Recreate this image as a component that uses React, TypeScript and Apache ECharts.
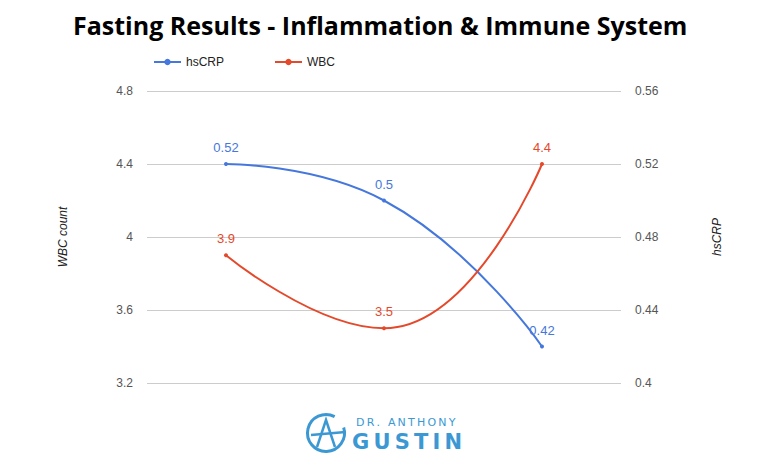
import React, { useEffect, useRef } from "react";
import * as echarts from "echarts";

const categories = ["Baseline", "Mid", "Post"];
const hsCRP = [0.52, 0.5, 0.42];
const WBC = [3.9, 3.5, 4.4];
const wbcTicks = { min: 3.2, max: 4.8, interval: 0.4 };
const crpTicks = { min: 0.4, max: 0.56, interval: 0.04 };

const BLUE = "#4577dc";
const RED = "#e4492b";
const LOGO = "#3b98d3";

export default function App() {
  const ref = useRef<HTMLDivElement>(null);
  useEffect(() => {
    document.body.style.margin = "0";
    const chart = echarts.init(ref.current!, undefined, { renderer: "svg" });
    const font = "Liberation Sans, Arial, sans-serif";
    const cx = 326, cy = 433, r = 18.5;
    const thin = "\u2009";
    const logo: any[] = [
      {
        type: "arc",
        shape: { cx, cy, r, startAngle: -0.3, endAngle: 5.2, clockwise: true },
        style: { stroke: LOGO, lineWidth: 3, fill: "none" },
      },
      {
        type: "line",
        shape: { x1: cx - 15, y1: cy + 2, x2: cx + r + 1, y2: cy - 1 },
        style: { stroke: LOGO, lineWidth: 2.5 },
      },
      {
        type: "polyline",
        shape: { points: [[cx - 9, cy + 14], [cx, cy - 13], [cx + 9, cy + 14]] },
        style: { stroke: LOGO, lineWidth: 2.5, fill: "none" },
      },
      {
        type: "text",
        x: 352,
        y: 441.5,
        style: {
          text: "GUSTIN".split("").join(thin),
          fill: LOGO,
          font: "bold 21px DejaVu Sans, sans-serif",
          lineHeight: 16,
          textAlign: "left",
          textVerticalAlign: "middle",
        },
      },
      {
        type: "text",
        x: 356,
        y: 422.5,
        style: {
          text: "DR. ANTHONY".split("").join(thin),
          fill: LOGO,
          font: "11px DejaVu Sans, sans-serif",
          lineHeight: 10,
          textAlign: "left",
          textVerticalAlign: "middle",
        },
      },
    ];
    chart.setOption({
      animation: false,
      title: {
        text: "Fasting Results - Inflammation & Immune System",
        left: 68,
        top: 7,
        textStyle: {
          fontFamily: "Open Sans, sans-serif",
          fontWeight: "bold",
          fontSize: 25,
          color: "#000",
        },
      },
      legend: {
        left: 148,
        top: 51,
        itemWidth: 27,
        itemHeight: 8,
        itemGap: 50,
        data: [
          { name: "hsCRP", itemStyle: { borderWidth: 0 } },
          { name: "WBC", itemStyle: { borderWidth: 0 } },
        ],
        textStyle: { fontFamily: font, fontSize: 12, color: "#222" },
      },
      grid: { left: 147, right: 147, top: 91, bottom: 90 },
      xAxis: {
        type: "category",
        data: categories,
        boundaryGap: true,
        axisLine: { show: false },
        axisTick: { show: false },
        axisLabel: { show: false },
      },
      yAxis: [
        {
          type: "value",
          ...wbcTicks,
          position: "left",
          name: "WBC count",
          nameLocation: "middle",
          nameGap: 78,
          nameTextStyle: { fontFamily: font, fontSize: 12, fontStyle: "italic", color: "#222" },
          axisLine: { show: false },
          axisTick: { show: false },
          axisLabel: { fontFamily: font, fontSize: 12, color: "#555", margin: 14 },
          splitLine: { lineStyle: { color: "#cccccc", width: 1 } },
        },
        {
          type: "value",
          ...crpTicks,
          position: "right",
          name: "hsCRP",
          nameLocation: "middle",
          nameGap: 90,
          nameTextStyle: { fontFamily: font, fontSize: 12, fontStyle: "italic", color: "#222" },
          axisLine: { show: false },
          axisTick: { show: false },
          axisLabel: { fontFamily: font, fontSize: 12, color: "#555", margin: 14 },
          splitLine: { show: false },
        },
      ],
      series: [
        {
          name: "hsCRP",
          type: "line",
          yAxisIndex: 1,
          data: hsCRP,
          smooth: 0.5,
          symbol: "circle",
          symbolSize: 4,
          color: BLUE,
          lineStyle: { width: 2, color: BLUE },
          label: {
            show: true,
            position: "top",
            distance: 8,
            color: BLUE,
            fontFamily: font,
            fontSize: 13,
          },
        },
        {
          name: "WBC",
          type: "line",
          yAxisIndex: 0,
          data: WBC,
          smooth: 0.5,
          symbol: "circle",
          symbolSize: 4,
          color: RED,
          lineStyle: { width: 2, color: RED },
          label: {
            show: true,
            position: "top",
            distance: 8,
            color: RED,
            fontFamily: font,
            fontSize: 13,
          },
        },
      ],
      graphic: logo,
    });
    return () => chart.dispose();
  }, []);
  return <div ref={ref} style={{ width: 768, height: 473 }} />;
}
